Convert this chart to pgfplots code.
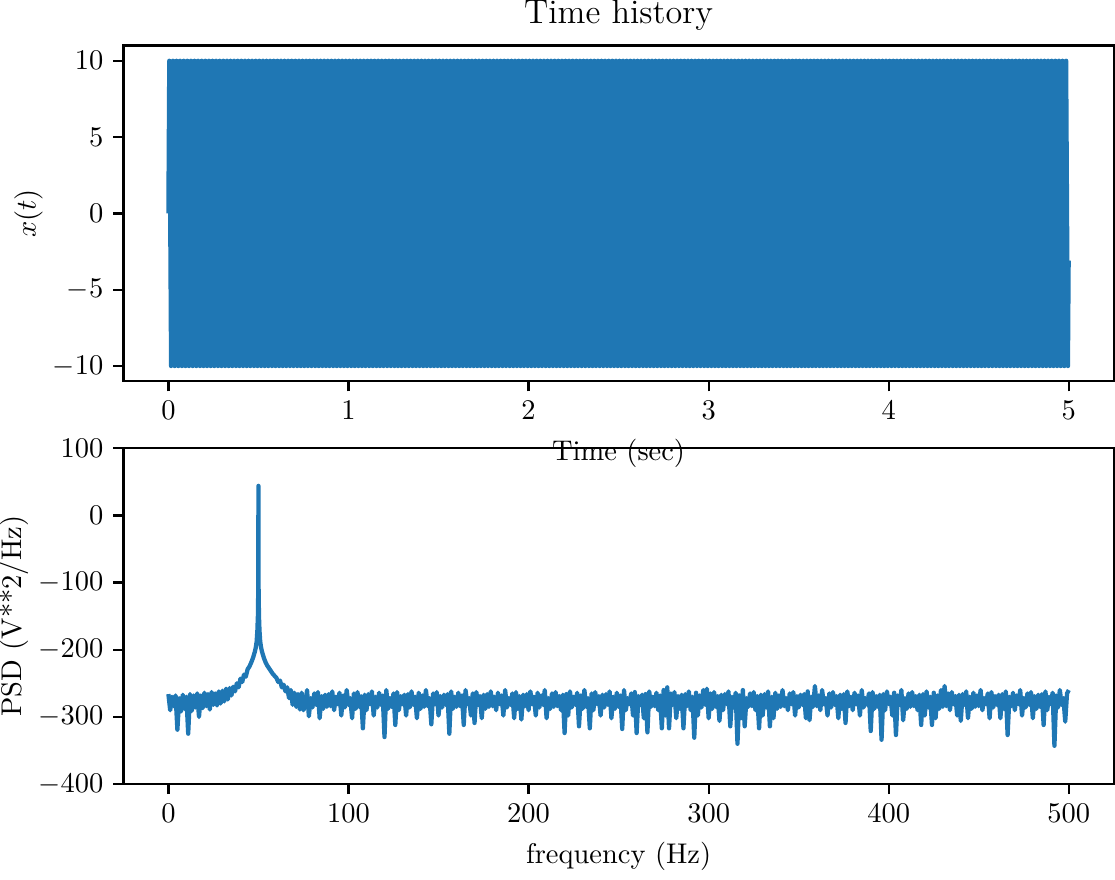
\documentclass[border=0pt]{standalone}
\usepackage{pgfplots}
\pgfplotsset{compat=1.18}
\definecolor{mplblue}{RGB}{31,119,180}
\pgfplotsset{
  common/.style={
    scale only axis, width=348pt, height=118pt,
    axis line style={line width=0.8pt},
    tick align=outside, major tick length=3.5pt,
    every tick/.style={black, line width=0.8pt},
    xtick pos=lower, ytick pos=left,
    tick label style={font=\normalsize},
    label style={font=\normalsize},
    ylabel style={inner sep=0pt, yshift=0pt},
  }
}
\begin{document}
\begin{tikzpicture}
\begin{axis}[common, at={(0pt,0pt)}, anchor=south west,
  xmin=-0.25, xmax=5.25, ymin=-11, ymax=11,
  xtick={0,1,2,3,4,5}, ytick={-10,-5,0,5,10},
  title style={font=\large, inner sep=0pt, yshift=-1pt},
  title={Time history}, xlabel={Time (sec)}, ylabel={$x(t)$}]
\addplot[mplblue, line width=1.5pt, line join=round, no markers] coordinates {
(0,0)
(0.005,10)(0.015,-10)(0.025,10)(0.035,-10)(0.045,10)(0.055,-10)(0.065,10)(0.075,-10)(0.085,10)(0.095,-10)
(0.105,10)(0.115,-10)(0.125,10)(0.135,-10)(0.145,10)(0.155,-10)(0.165,10)(0.175,-10)(0.185,10)(0.195,-10)
(0.205,10)(0.215,-10)(0.225,10)(0.235,-10)(0.245,10)(0.255,-10)(0.265,10)(0.275,-10)(0.285,10)(0.295,-10)
(0.305,10)(0.315,-10)(0.325,10)(0.335,-10)(0.345,10)(0.355,-10)(0.365,10)(0.375,-10)(0.385,10)(0.395,-10)
(0.405,10)(0.415,-10)(0.425,10)(0.435,-10)(0.445,10)(0.455,-10)(0.465,10)(0.475,-10)(0.485,10)(0.495,-10)
(0.505,10)(0.515,-10)(0.525,10)(0.535,-10)(0.545,10)(0.555,-10)(0.565,10)(0.575,-10)(0.585,10)(0.595,-10)
(0.605,10)(0.615,-10)(0.625,10)(0.635,-10)(0.645,10)(0.655,-10)(0.665,10)(0.675,-10)(0.685,10)(0.695,-10)
(0.705,10)(0.715,-10)(0.725,10)(0.735,-10)(0.745,10)(0.755,-10)(0.765,10)(0.775,-10)(0.785,10)(0.795,-10)
(0.805,10)(0.815,-10)(0.825,10)(0.835,-10)(0.845,10)(0.855,-10)(0.865,10)(0.875,-10)(0.885,10)(0.895,-10)
(0.905,10)(0.915,-10)(0.925,10)(0.935,-10)(0.945,10)(0.955,-10)(0.965,10)(0.975,-10)(0.985,10)(0.995,-10)
(1.005,10)(1.015,-10)(1.025,10)(1.035,-10)(1.045,10)(1.055,-10)(1.065,10)(1.075,-10)(1.085,10)(1.095,-10)
(1.105,10)(1.115,-10)(1.125,10)(1.135,-10)(1.145,10)(1.155,-10)(1.165,10)(1.175,-10)(1.185,10)(1.195,-10)
(1.205,10)(1.215,-10)(1.225,10)(1.235,-10)(1.245,10)(1.255,-10)(1.265,10)(1.275,-10)(1.285,10)(1.295,-10)
(1.305,10)(1.315,-10)(1.325,10)(1.335,-10)(1.345,10)(1.355,-10)(1.365,10)(1.375,-10)(1.385,10)(1.395,-10)
(1.405,10)(1.415,-10)(1.425,10)(1.435,-10)(1.445,10)(1.455,-10)(1.465,10)(1.475,-10)(1.485,10)(1.495,-10)
(1.505,10)(1.515,-10)(1.525,10)(1.535,-10)(1.545,10)(1.555,-10)(1.565,10)(1.575,-10)(1.585,10)(1.595,-10)
(1.605,10)(1.615,-10)(1.625,10)(1.635,-10)(1.645,10)(1.655,-10)(1.665,10)(1.675,-10)(1.685,10)(1.695,-10)
(1.705,10)(1.715,-10)(1.725,10)(1.735,-10)(1.745,10)(1.755,-10)(1.765,10)(1.775,-10)(1.785,10)(1.795,-10)
(1.805,10)(1.815,-10)(1.825,10)(1.835,-10)(1.845,10)(1.855,-10)(1.865,10)(1.875,-10)(1.885,10)(1.895,-10)
(1.905,10)(1.915,-10)(1.925,10)(1.935,-10)(1.945,10)(1.955,-10)(1.965,10)(1.975,-10)(1.985,10)(1.995,-10)
(2.005,10)(2.015,-10)(2.025,10)(2.035,-10)(2.045,10)(2.055,-10)(2.065,10)(2.075,-10)(2.085,10)(2.095,-10)
(2.105,10)(2.115,-10)(2.125,10)(2.135,-10)(2.145,10)(2.155,-10)(2.165,10)(2.175,-10)(2.185,10)(2.195,-10)
(2.205,10)(2.215,-10)(2.225,10)(2.235,-10)(2.245,10)(2.255,-10)(2.265,10)(2.275,-10)(2.285,10)(2.295,-10)
(2.305,10)(2.315,-10)(2.325,10)(2.335,-10)(2.345,10)(2.355,-10)(2.365,10)(2.375,-10)(2.385,10)(2.395,-10)
(2.405,10)(2.415,-10)(2.425,10)(2.435,-10)(2.445,10)(2.455,-10)(2.465,10)(2.475,-10)(2.485,10)(2.495,-10)
(2.505,10)(2.515,-10)(2.525,10)(2.535,-10)(2.545,10)(2.555,-10)(2.565,10)(2.575,-10)(2.585,10)(2.595,-10)
(2.605,10)(2.615,-10)(2.625,10)(2.635,-10)(2.645,10)(2.655,-10)(2.665,10)(2.675,-10)(2.685,10)(2.695,-10)
(2.705,10)(2.715,-10)(2.725,10)(2.735,-10)(2.745,10)(2.755,-10)(2.765,10)(2.775,-10)(2.785,10)(2.795,-10)
(2.805,10)(2.815,-10)(2.825,10)(2.835,-10)(2.845,10)(2.855,-10)(2.865,10)(2.875,-10)(2.885,10)(2.895,-10)
(2.905,10)(2.915,-10)(2.925,10)(2.935,-10)(2.945,10)(2.955,-10)(2.965,10)(2.975,-10)(2.985,10)(2.995,-10)
(3.005,10)(3.015,-10)(3.025,10)(3.035,-10)(3.045,10)(3.055,-10)(3.065,10)(3.075,-10)(3.085,10)(3.095,-10)
(3.105,10)(3.115,-10)(3.125,10)(3.135,-10)(3.145,10)(3.155,-10)(3.165,10)(3.175,-10)(3.185,10)(3.195,-10)
(3.205,10)(3.215,-10)(3.225,10)(3.235,-10)(3.245,10)(3.255,-10)(3.265,10)(3.275,-10)(3.285,10)(3.295,-10)
(3.305,10)(3.315,-10)(3.325,10)(3.335,-10)(3.345,10)(3.355,-10)(3.365,10)(3.375,-10)(3.385,10)(3.395,-10)
(3.405,10)(3.415,-10)(3.425,10)(3.435,-10)(3.445,10)(3.455,-10)(3.465,10)(3.475,-10)(3.485,10)(3.495,-10)
(3.505,10)(3.515,-10)(3.525,10)(3.535,-10)(3.545,10)(3.555,-10)(3.565,10)(3.575,-10)(3.585,10)(3.595,-10)
(3.605,10)(3.615,-10)(3.625,10)(3.635,-10)(3.645,10)(3.655,-10)(3.665,10)(3.675,-10)(3.685,10)(3.695,-10)
(3.705,10)(3.715,-10)(3.725,10)(3.735,-10)(3.745,10)(3.755,-10)(3.765,10)(3.775,-10)(3.785,10)(3.795,-10)
(3.805,10)(3.815,-10)(3.825,10)(3.835,-10)(3.845,10)(3.855,-10)(3.865,10)(3.875,-10)(3.885,10)(3.895,-10)
(3.905,10)(3.915,-10)(3.925,10)(3.935,-10)(3.945,10)(3.955,-10)(3.965,10)(3.975,-10)(3.985,10)(3.995,-10)
(4.005,10)(4.015,-10)(4.025,10)(4.035,-10)(4.045,10)(4.055,-10)(4.065,10)(4.075,-10)(4.085,10)(4.095,-10)
(4.105,10)(4.115,-10)(4.125,10)(4.135,-10)(4.145,10)(4.155,-10)(4.165,10)(4.175,-10)(4.185,10)(4.195,-10)
(4.205,10)(4.215,-10)(4.225,10)(4.235,-10)(4.245,10)(4.255,-10)(4.265,10)(4.275,-10)(4.285,10)(4.295,-10)
(4.305,10)(4.315,-10)(4.325,10)(4.335,-10)(4.345,10)(4.355,-10)(4.365,10)(4.375,-10)(4.385,10)(4.395,-10)
(4.405,10)(4.415,-10)(4.425,10)(4.435,-10)(4.445,10)(4.455,-10)(4.465,10)(4.475,-10)(4.485,10)(4.495,-10)
(4.505,10)(4.515,-10)(4.525,10)(4.535,-10)(4.545,10)(4.555,-10)(4.565,10)(4.575,-10)(4.585,10)(4.595,-10)
(4.605,10)(4.615,-10)(4.625,10)(4.635,-10)(4.645,10)(4.655,-10)(4.665,10)(4.675,-10)(4.685,10)(4.695,-10)
(4.705,10)(4.715,-10)(4.725,10)(4.735,-10)(4.745,10)(4.755,-10)(4.765,10)(4.775,-10)(4.785,10)(4.795,-10)
(4.805,10)(4.815,-10)(4.825,10)(4.835,-10)(4.845,10)(4.855,-10)(4.865,10)(4.875,-10)(4.885,10)(4.895,-10)
(4.905,10)(4.915,-10)(4.925,10)(4.935,-10)(4.945,10)(4.955,-10)(4.965,10)(4.975,-10)(4.985,10)(4.995,-10)
(4.999,-3.09)
};
\end{axis}
\begin{axis}[common, at={(0pt,-141.5pt)}, anchor=south west,
  xmin=-25, xmax=525, ymin=-400, ymax=100,
  xtick={0,100,200,300,400,500}, ytick={-400,-300,-200,-100,0,100},
  xlabel={frequency (Hz)}, ylabel={PSD (V**2/Hz)}]
\addplot[mplblue, line width=1.5pt, line join=round, no markers] table {
f p
0 -266
1 -290
2 -270
3 -284
4 -268
5 -319
6 -272
7 -292
8 -267
9 -288
10 -270
11 -325
12 -266
13 -291
14 -268
15 -286
16 -265
17 -300
18 -268
19 -287
20 -264
21 -284
22 -266
23 -289
24 -263
25 -282
26 -265
27 -283
28 -262
29 -280
30 -261
31 -277
32 -258
33 -274
34 -257
35 -268
36 -255
37 -262
38 -250
39 -256
40 -243
41 -248
42 -237
43 -240
44 -229
45 -225
46 -219
47 -212
48 -203
48.5 -197
49 -188
49.4 -172
49.7 -150
49.9 -110
50 44
50.1 -110
50.3 -150
50.6 -172
51 -188
51.5 -197
52 -203
53 -212
54 -219
55 -224
56 -228
57 -232
58 -236
60 -242
61 -248
62 -246
63 -256
64 -252
65 -262
66 -256
67 -272
68 -260
69 -282
70 -264
71 -285
72 -266
73 -289
74 -264
75 -290
76 -281
77 -260
78 -299
79 -272
80 -286
81 -265
82 -282
83 -263
84 -302
85 -269
86 -288
87 -267
88 -285
89 -266
90 -284
91 -262
92 -290
93 -270
94 -281
95 -264
96 -298
97 -268
98 -286
99 -260
100 -282
101 -272
102 -302
103 -265
104 -288
105 -263
106 -285
107 -269
108 -317
109 -267
110 -290
111 -266
112 -281
113 -262
114 -298
115 -270
116 -286
117 -264
118 -282
119 -268
120 -330
121 -260
122 -288
123 -272
124 -285
125 -265
126 -312
127 -263
128 -290
129 -269
130 -281
131 -267
132 -298
133 -266
134 -286
135 -262
136 -282
137 -270
138 -302
139 -264
140 -288
141 -268
142 -285
143 -260
144 -284
145 -272
146 -311
147 -265
148 -281
149 -263
150 -298
151 -269
152 -286
153 -267
154 -282
155 -266
156 -325
157 -262
158 -288
159 -270
160 -285
161 -264
162 -284
163 -268
164 -312
165 -260
166 -281
167 -272
168 -298
169 -265
170 -309
171 -263
172 -282
173 -269
174 -302
175 -267
176 -288
177 -266
178 -285
179 -262
180 -284
181 -270
182 -290
183 -264
184 -281
185 -268
186 -298
187 -260
188 -286
189 -272
190 -282
191 -265
192 -302
193 -263
194 -288
195 -269
196 -304
197 -267
198 -284
199 -266
200 -290
201 -262
202 -281
203 -270
204 -298
205 -264
206 -286
207 -268
208 -282
209 -260
210 -302
211 -272
212 -288
213 -265
214 -285
215 -263
216 -284
217 -269
218 -290
219 -267
220 -324
221 -266
222 -298
223 -262
224 -286
225 -270
226 -282
227 -264
228 -314
229 -268
230 -288
231 -260
232 -285
233 -272
234 -317
235 -265
236 -290
237 -263
238 -281
239 -269
240 -298
241 -267
242 -286
243 -266
244 -282
245 -262
246 -302
247 -270
248 -288
249 -264
250 -285
251 -268
252 -318
253 -260
254 -290
255 -272
256 -281
257 -265
258 -298
259 -263
260 -324
261 -269
262 -282
263 -267
264 -302
265 -266
266 -323
267 -262
268 -285
269 -270
270 -284
271 -264
272 -290
273 -268
274 -317
275 -260
276 -298
277 -256
278 -317
279 -265
280 -282
281 -263
282 -302
283 -269
284 -288
285 -267
286 -317
287 -266
288 -284
289 -262
290 -290
291 -270
292 -331
293 -264
294 -298
295 -268
296 -286
297 -260
298 -282
299 -258
300 -302
301 -265
302 -288
303 -263
304 -285
305 -269
306 -306
307 -267
308 -290
309 -266
310 -281
311 -262
312 -314
313 -270
314 -286
315 -264
316 -340
317 -268
318 -302
319 -260
320 -314
321 -272
322 -285
323 -265
324 -284
325 -263
326 -290
327 -269
328 -317
329 -267
330 -298
331 -266
332 -286
333 -262
334 -314
335 -270
336 -302
337 -264
338 -288
339 -268
340 -285
341 -260
342 -284
343 -272
344 -290
345 -265
346 -281
347 -263
348 -298
349 -269
350 -286
351 -267
352 -282
353 -266
354 -302
355 -262
356 -305
357 -270
358 -285
359 -254
360 -284
361 -268
362 -290
363 -260
364 -281
365 -272
366 -298
367 -265
368 -286
369 -263
370 -282
371 -269
372 -302
373 -267
374 -288
375 -266
376 -309
377 -262
378 -284
379 -270
380 -290
381 -264
382 -281
383 -268
384 -298
385 -260
386 -286
387 -272
388 -282
389 -265
390 -321
391 -263
392 -288
393 -269
394 -285
395 -267
396 -334
397 -266
398 -290
399 -262
400 -281
401 -270
402 -298
403 -264
404 -327
405 -268
406 -282
407 -260
408 -305
409 -272
410 -288
411 -265
412 -285
413 -263
414 -284
415 -269
416 -290
417 -267
418 -312
419 -266
420 -298
421 -262
422 -286
423 -270
424 -312
425 -264
426 -302
427 -268
428 -288
429 -260
430 -285
431 -254
432 -284
433 -265
434 -290
435 -263
436 -281
437 -269
438 -298
439 -267
440 -306
441 -266
442 -282
443 -262
444 -302
445 -270
446 -288
447 -264
448 -285
449 -268
450 -284
451 -260
452 -290
453 -272
454 -281
455 -265
456 -302
457 -263
458 -286
459 -269
460 -282
461 -267
462 -302
463 -266
464 -288
465 -262
466 -327
467 -270
468 -284
469 -264
470 -290
471 -268
472 -281
473 -260
474 -298
475 -272
476 -286
477 -265
478 -282
479 -263
480 -302
481 -269
482 -288
483 -267
484 -285
485 -266
486 -312
487 -262
488 -290
489 -270
490 -281
491 -264
492 -343
493 -268
494 -286
495 -260
496 -282
497 -272
498 -307
499 -265
500 -260
};
\end{axis}
\end{tikzpicture}
\end{document}
